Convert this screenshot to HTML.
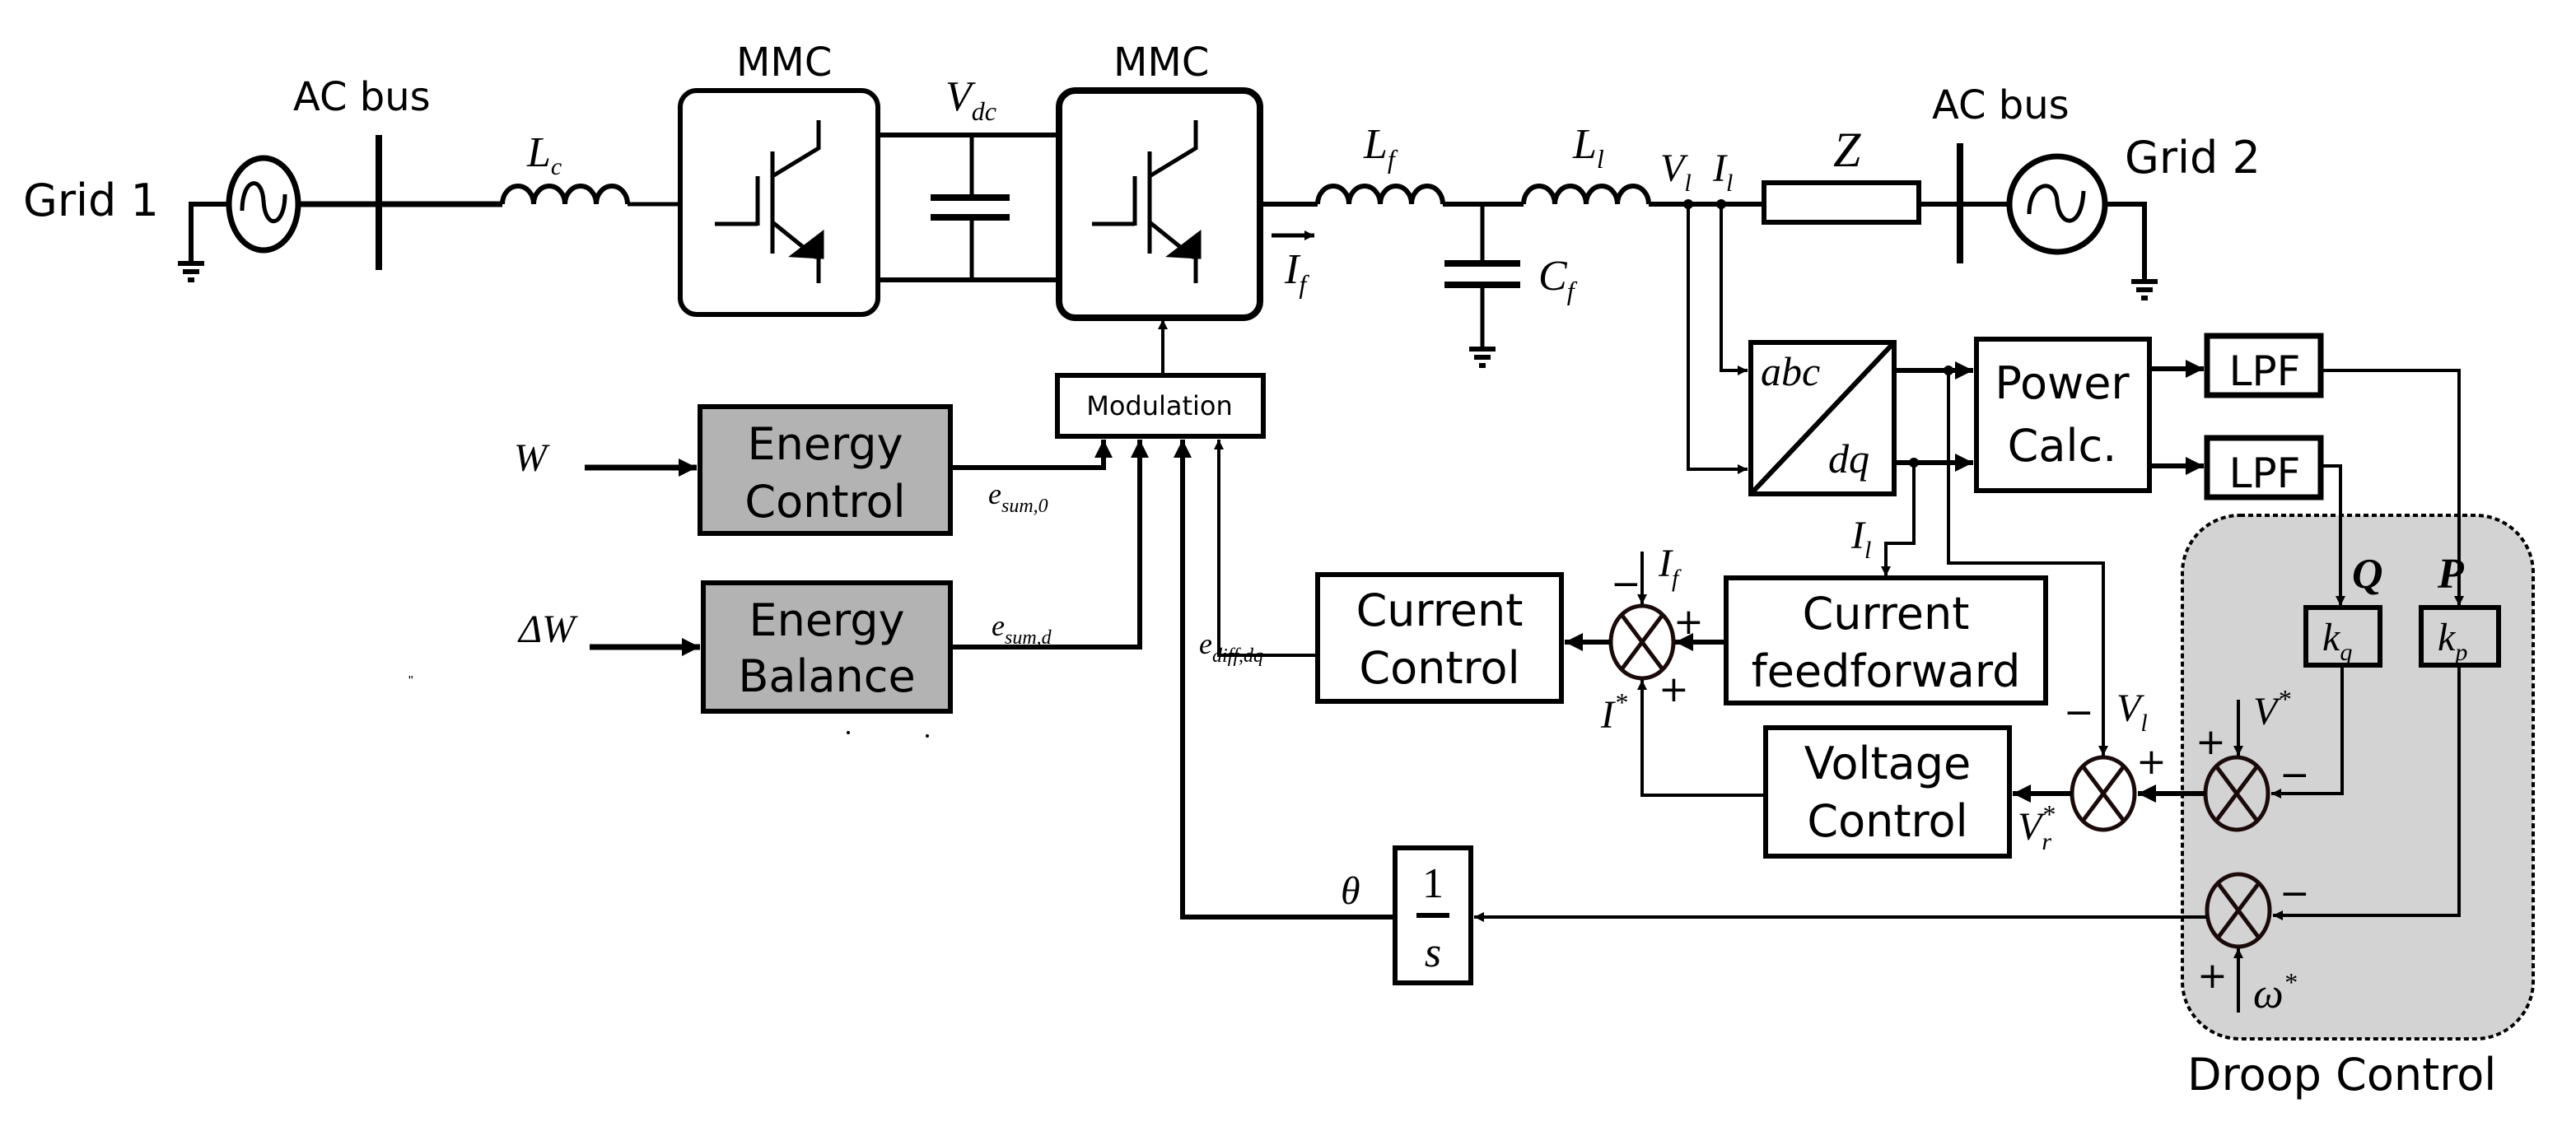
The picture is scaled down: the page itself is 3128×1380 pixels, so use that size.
<!DOCTYPE html>
<html><head><meta charset="utf-8"><style>
html,body{margin:0;padding:0;background:#fff;}
svg{display:block;}
.s{font-family:"DejaVu Sans","Liberation Sans",sans-serif;fill:#000;}
.m{font-family:"Liberation Serif",serif;font-style:italic;fill:#000;}
</style></head><body>
<svg width="3128" height="1380" viewBox="0 0 1564 690" xmlns="http://www.w3.org/2000/svg">
<defs>
<marker id="a" viewBox="0 0 10 10" refX="10" refY="5" markerWidth="6" markerHeight="6" orient="auto" markerUnits="userSpaceOnUse"><path d="M0,0 L10,5 L0,10 z" fill="#000"/></marker>
<marker id="A" viewBox="0 0 10 10" refX="10" refY="5" markerWidth="11" markerHeight="11" orient="auto" markerUnits="userSpaceOnUse"><path d="M0,0 L10,5 L0,10 z" fill="#000"/></marker>
<g id="igbt" stroke="#000" stroke-width="2.5" fill="none">
<line x1="434" y1="136" x2="460" y2="136"/>
<line x1="460" y1="107" x2="460" y2="137"/>
<line x1="469" y1="92" x2="469" y2="154"/>
<polyline points="497,73 497,90 469,107"/>
<polyline points="469,135 495,156 497,156 497,172"/>
<path d="M482,155 L499,142 L499,156 z" fill="#000"/>
</g>
<g id="sum" stroke="#1a0a0a" stroke-width="2.5" fill="none">
<ellipse cx="0" cy="0" rx="19" ry="22"/>
<line x1="-12" y1="-16" x2="12" y2="16"/><line x1="12" y1="-16" x2="-12" y2="16"/>
</g>
<g id="gnd" stroke="#000" stroke-width="3"><line x1="-8" y1="0" x2="8" y2="0"/><line x1="-5" y1="5" x2="5" y2="5"/><line x1="-2" y1="10" x2="2" y2="10"/></g>
</defs>

<!-- Droop region -->
<rect x="1325" y="313" width="213" height="318" rx="35" fill="#d3d3d3" stroke="#000" stroke-width="2" stroke-dasharray="3,2"/>
<text class="s" x="1328" y="662" font-size="27">Droop Control</text>

<!-- Grid 1 -->
<text class="s" x="14" y="131" font-size="27">Grid 1</text>
<polyline points="116,160 116,124 138,124" fill="none" stroke="#000" stroke-width="3"/>
<use href="#gnd" x="116" y="160"/>
<ellipse cx="160" cy="124" rx="21" ry="28" fill="none" stroke="#000" stroke-width="3.5"/>
<path d="M147,128 C147,108 159,106 160,122 C161,140 173,138 173,118" fill="none" stroke="#000" stroke-width="2.5"/>
<line x1="181" y1="124" x2="305" y2="124" stroke="#000" stroke-width="3.5"/>
<line x1="230" y1="82" x2="230" y2="164" stroke="#000" stroke-width="4"/>
<text class="s" x="178" y="67" font-size="24">AC bus</text>
<!-- Lc -->
<path d="M305,124 a9.5,11 0 0 1 19,0 a9.5,11 0 0 1 19,0 a9.5,11 0 0 1 19,0 a9.5,11 0 0 1 19,0" fill="none" stroke="#000" stroke-width="3"/>
<text class="m" x="320" y="101" font-size="26">L<tspan font-size="15" dy="5">c</tspan></text>
<line x1="381" y1="124" x2="413" y2="124" stroke="#000" stroke-width="2.5"/>

<!-- MMC 1 -->
<rect x="413" y="55" width="120" height="136" rx="10" fill="#fff" stroke="#000" stroke-width="3"/>
<text class="s" x="447" y="46" font-size="24">MMC</text>
<use href="#igbt"/>
<line x1="533" y1="82" x2="643" y2="82" stroke="#000" stroke-width="3"/>
<line x1="533" y1="170" x2="643" y2="170" stroke="#000" stroke-width="3"/>
<line x1="590" y1="82" x2="590" y2="120" stroke="#000" stroke-width="2.5"/>
<line x1="590" y1="132" x2="590" y2="170" stroke="#000" stroke-width="2.5"/>
<line x1="565" y1="120" x2="613" y2="120" stroke="#000" stroke-width="4"/>
<line x1="565" y1="132" x2="613" y2="132" stroke="#000" stroke-width="4"/>
<text class="m" x="574" y="67" font-size="26">V<tspan font-size="16" dy="6">dc</tspan></text>

<!-- MMC 2 -->
<rect x="643" y="55" width="122" height="138" rx="10" fill="#fff" stroke="#000" stroke-width="4"/>
<text class="s" x="676" y="46" font-size="24">MMC</text>
<use href="#igbt" x="229"/>
<line x1="765" y1="124" x2="800" y2="124" stroke="#000" stroke-width="3"/>
<line x1="772" y1="143" x2="798" y2="143" stroke="#000" stroke-width="2.5" marker-end="url(#a)"/>
<text class="m" x="780" y="172" font-size="26">I<tspan font-size="16" dy="6">f</tspan></text>
<!-- Lf -->
<path d="M800,124 a9.5,11 0 0 1 19,0 a9.5,11 0 0 1 19,0 a9.5,11 0 0 1 19,0 a9.5,11 0 0 1 19,0" fill="none" stroke="#000" stroke-width="3"/>
<text class="m" x="828" y="96" font-size="26">L<tspan font-size="16" dy="6">f</tspan></text>
<line x1="876" y1="124" x2="925" y2="124" stroke="#000" stroke-width="3"/>
<line x1="900" y1="124" x2="900" y2="160" stroke="#000" stroke-width="2.5"/>
<line x1="900" y1="173" x2="900" y2="211" stroke="#000" stroke-width="2.5"/>
<line x1="877" y1="160" x2="923" y2="160" stroke="#000" stroke-width="4"/>
<line x1="877" y1="173" x2="923" y2="173" stroke="#000" stroke-width="4"/>
<use href="#gnd" x="900" y="212"/>
<text class="m" x="934" y="176" font-size="26">C<tspan font-size="16" dy="6">f</tspan></text>
<!-- Ll -->
<path d="M925,124 a9.5,11 0 0 1 19,0 a9.5,11 0 0 1 19,0 a9.5,11 0 0 1 19,0 a9.5,11 0 0 1 19,0" fill="none" stroke="#000" stroke-width="3"/>
<text class="m" x="955" y="96" font-size="26">L<tspan font-size="16" dy="6">l</tspan></text>
<line x1="1001" y1="124" x2="1070" y2="124" stroke="#000" stroke-width="3"/>
<text class="m" x="1008" y="110" font-size="24">V<tspan font-size="15" dy="6">l</tspan></text>
<text class="m" x="1040" y="110" font-size="24">I<tspan font-size="15" dy="6">l</tspan></text>
<circle cx="1025" cy="124" r="3" fill="#000"/>
<circle cx="1045" cy="124" r="3" fill="#000"/>
<rect x="1071" y="111" width="94" height="24" fill="#fff" stroke="#000" stroke-width="3"/>
<text class="m" x="1113" y="101" font-size="30">Z</text>
<line x1="1165" y1="124" x2="1220" y2="124" stroke="#000" stroke-width="3"/>
<line x1="1190" y1="87" x2="1190" y2="160" stroke="#000" stroke-width="4"/>
<text class="s" x="1173" y="72" font-size="24">AC bus</text>
<circle cx="1249" cy="124" r="29" fill="none" stroke="#000" stroke-width="3.5"/>
<path d="M1232,130 C1232,110 1248,108 1249,122 C1250,138 1264,140 1265,116" fill="none" stroke="#000" stroke-width="2.5"/>
<polyline points="1278,124 1302,124 1302,170" fill="none" stroke="#000" stroke-width="3"/>
<use href="#gnd" x="1302" y="171"/>
<text class="s" x="1290" y="105" font-size="27">Grid 2</text>

<!-- abc/dq -->
<polyline points="1025,124 1025,285 1061,285" fill="none" stroke="#000" stroke-width="2" marker-end="url(#a)"/>
<polyline points="1045,124 1045,225 1061,225" fill="none" stroke="#000" stroke-width="2" marker-end="url(#a)"/>
<rect x="1063" y="208" width="87" height="92" fill="#fff" stroke="#000" stroke-width="3"/>
<line x1="1063" y1="300" x2="1150" y2="208" stroke="#000" stroke-width="3"/>
<text class="m" x="1069" y="234" font-size="25">abc</text>
<text class="m" x="1110" y="287" font-size="25">dq</text>
<line x1="1150" y1="225" x2="1198" y2="225" stroke="#000" stroke-width="3" marker-end="url(#A)"/>
<line x1="1150" y1="281" x2="1198" y2="281" stroke="#000" stroke-width="3" marker-end="url(#A)"/>
<circle cx="1183" cy="225" r="3" fill="#000"/>
<circle cx="1162" cy="281" r="3" fill="#000"/>
<rect x="1200" y="206" width="105" height="92" fill="#fff" stroke="#000" stroke-width="3"/>
<text class="s" x="1252" y="242" font-size="27" text-anchor="middle">Power</text>
<text class="s" x="1252" y="280" font-size="27" text-anchor="middle">Calc.</text>
<line x1="1305" y1="224" x2="1338" y2="224" stroke="#000" stroke-width="3" marker-end="url(#A)"/>
<line x1="1305" y1="283" x2="1338" y2="283" stroke="#000" stroke-width="3" marker-end="url(#A)"/>
<rect x="1340" y="204" width="69" height="36" fill="#fff" stroke="#000" stroke-width="3.5"/>
<rect x="1340" y="266" width="69" height="36" fill="#fff" stroke="#000" stroke-width="3.5"/>
<text class="s" x="1375" y="234" font-size="25" text-anchor="middle">LPF</text>
<text class="s" x="1375" y="296" font-size="25" text-anchor="middle">LPF</text>
<polyline points="1409,225 1493,225 1493,368" fill="none" stroke="#000" stroke-width="2" marker-end="url(#a)"/>
<polyline points="1409,283 1421,283 1421,368" fill="none" stroke="#000" stroke-width="2" marker-end="url(#a)"/>
<text class="m" x="1428" y="357" font-size="26" font-weight="bold">Q</text>
<text class="m" x="1480" y="357" font-size="26" font-weight="bold">P</text>
<rect x="1400" y="369" width="45" height="35" fill="#d3d3d3" stroke="#000" stroke-width="3"/>
<rect x="1470" y="369" width="47" height="35" fill="#d3d3d3" stroke="#000" stroke-width="3"/>
<text class="m" x="1410" y="395" font-size="24">k<tspan font-size="15" dy="6">q</tspan></text>
<text class="m" x="1480" y="395" font-size="24">k<tspan font-size="15" dy="6">p</tspan></text>

<!-- droop sums -->
<use href="#sum" x="1358" y="482"/>
<use href="#sum" x="1359" y="553"/>
<polyline points="1422,404 1422,482 1379,482" fill="none" stroke="#000" stroke-width="2" marker-end="url(#a)"/>
<polyline points="1493,404 1493,556 1380,556" fill="none" stroke="#000" stroke-width="2" marker-end="url(#a)"/>
<line x1="1359" y1="425" x2="1359" y2="459" stroke="#000" stroke-width="2" marker-end="url(#a)"/>
<line x1="1359" y1="615" x2="1359" y2="576" stroke="#000" stroke-width="2" marker-end="url(#a)"/>
<text class="s" x="1333" y="458" font-size="22">+</text>
<text class="s" x="1384" y="478" font-size="22">−</text>
<text class="m" x="1368" y="440" font-size="24">V<tspan font-size="16" dy="-10">*</tspan></text>
<text class="s" x="1384" y="550" font-size="22">−</text>
<text class="s" x="1334" y="600" font-size="22">+</text>
<text class="m" x="1368" y="612" font-size="26">ω<tspan font-size="16" dy="-10">*</tspan></text>

<!-- Vl sum -->
<use href="#sum" x="1277" y="482"/>
<line x1="1339" y1="482" x2="1298" y2="482" stroke="#000" stroke-width="3" marker-end="url(#A)"/>
<polyline points="1183,225 1183,342 1277,342 1277,459" fill="none" stroke="#000" stroke-width="2" marker-end="url(#a)"/>
<text class="s" x="1253" y="440" font-size="22">−</text>
<text class="m" x="1285" y="438" font-size="24">V<tspan font-size="15" dy="6">l</tspan></text>
<text class="s" x="1297" y="470" font-size="22">+</text>
<line x1="1258" y1="482" x2="1222" y2="482" stroke="#000" stroke-width="3" marker-end="url(#A)"/>
<rect x="1072" y="442" width="148" height="78" fill="#fff" stroke="#000" stroke-width="3"/>
<text class="s" x="1146" y="473" font-size="27" text-anchor="middle">Voltage</text>
<text class="s" x="1146" y="508" font-size="27" text-anchor="middle">Control</text>
<text class="m" x="1225" y="510" font-size="24">V<tspan font-size="15" dy="6">r</tspan><tspan font-size="16" dx="-6" dy="-16">*</tspan></text>
<polyline points="1072,483 997,483 997,413" fill="none" stroke="#000" stroke-width="2" marker-end="url(#a)"/>

<!-- current sum -->
<use href="#sum" x="997" y="390"/>
<line x1="997" y1="335" x2="997" y2="367" stroke="#000" stroke-width="2" marker-end="url(#a)"/>
<text class="s" x="978" y="362" font-size="22">−</text>
<text class="m" x="1007" y="350" font-size="24">I<tspan font-size="15" dy="6">f</tspan></text>
<text class="s" x="1016" y="385" font-size="22">+</text>
<text class="s" x="1007" y="426" font-size="22">+</text>
<text class="m" x="972" y="442" font-size="24">I<tspan font-size="16" dy="-10">*</tspan></text>
<rect x="1048" y="351" width="194" height="76" fill="#fff" stroke="#000" stroke-width="3"/>
<text class="s" x="1145" y="382" font-size="27" text-anchor="middle">Current</text>
<text class="s" x="1145" y="417" font-size="27" text-anchor="middle">feedforward</text>
<line x1="1048" y1="390" x2="1017" y2="390" stroke="#000" stroke-width="3" marker-end="url(#A)"/>
<polyline points="1162,281 1162,330 1145,330 1145,350" fill="none" stroke="#000" stroke-width="2" marker-end="url(#a)"/>
<text class="m" x="1124" y="333" font-size="24">I<tspan font-size="15" dy="6">l</tspan></text>
<line x1="978" y1="390" x2="950" y2="390" stroke="#000" stroke-width="3" marker-end="url(#A)"/>
<rect x="800" y="349" width="148" height="77" fill="#fff" stroke="#000" stroke-width="3"/>
<text class="s" x="874" y="380" font-size="27" text-anchor="middle">Current</text>
<text class="s" x="874" y="415" font-size="27" text-anchor="middle">Control</text>
<polyline points="800,398 740,398 740,267" fill="none" stroke="#000" stroke-width="2" marker-end="url(#a)"/>
<text class="m" x="728" y="397" font-size="18">e<tspan font-size="12" dy="5">diff,dq</tspan></text>

<!-- Modulation -->
<line x1="706" y1="228" x2="706" y2="194" stroke="#000" stroke-width="2" marker-end="url(#a)"/>
<rect x="642" y="228" width="125" height="37" fill="#fff" stroke="#000" stroke-width="3"/>
<text class="s" x="704" y="252" font-size="16" text-anchor="middle">Modulation</text>

<!-- Energy -->
<rect x="425" y="247" width="152" height="77" fill="#b3b3b3" stroke="#000" stroke-width="3"/>
<text class="s" x="501" y="279" font-size="27" text-anchor="middle">Energy</text>
<text class="s" x="501" y="314" font-size="27" text-anchor="middle">Control</text>
<rect x="427" y="354" width="150" height="78" fill="#b3b3b3" stroke="#000" stroke-width="3"/>
<text class="s" x="502" y="386" font-size="27" text-anchor="middle">Energy</text>
<text class="s" x="502" y="420" font-size="27" text-anchor="middle">Balance</text>
<text class="m" x="312" y="286" font-size="24">W</text>
<line x1="355" y1="284" x2="423" y2="284" stroke="#000" stroke-width="3.5" marker-end="url(#A)"/>
<text class="m" x="315" y="390" font-size="24">ΔW</text>
<line x1="358" y1="393" x2="425" y2="393" stroke="#000" stroke-width="3.5" marker-end="url(#A)"/>
<polyline points="577,284 670,284 670,267" fill="none" stroke="#000" stroke-width="3" marker-end="url(#A)"/>
<polyline points="577,393 692,393 692,267" fill="none" stroke="#000" stroke-width="3" marker-end="url(#A)"/>
<text class="m" x="600" y="306" font-size="18">e<tspan font-size="12" dy="5">sum,0</tspan></text>
<text class="m" x="602" y="386" font-size="18">e<tspan font-size="12" dy="5">sum,d</tspan></text>

<!-- 1/s -->
<polyline points="847,557 718,557 718,267" fill="none" stroke="#000" stroke-width="3" marker-end="url(#A)"/>
<text class="m" x="814" y="549" font-size="24">θ</text>
<rect x="847" y="515" width="46" height="82" fill="#fff" stroke="#000" stroke-width="3"/>
<text x="870" y="545" font-family="Liberation Serif,serif" font-size="26" text-anchor="middle">1</text>
<line x1="860" y1="556" x2="880" y2="556" stroke="#000" stroke-width="3"/>
<text class="m" x="870" y="587" font-size="26" text-anchor="middle">s</text>
<line x1="1340" y1="557" x2="895" y2="557" stroke="#000" stroke-width="2" marker-end="url(#a)"/>

<!-- stray marks -->
<text x="248" y="416" font-size="8" font-family="Liberation Sans,sans-serif">"</text>
<circle cx="515" cy="445" r="1" fill="#000"/>
<circle cx="563" cy="447" r="1" fill="#000"/>
</svg>
</body></html>
